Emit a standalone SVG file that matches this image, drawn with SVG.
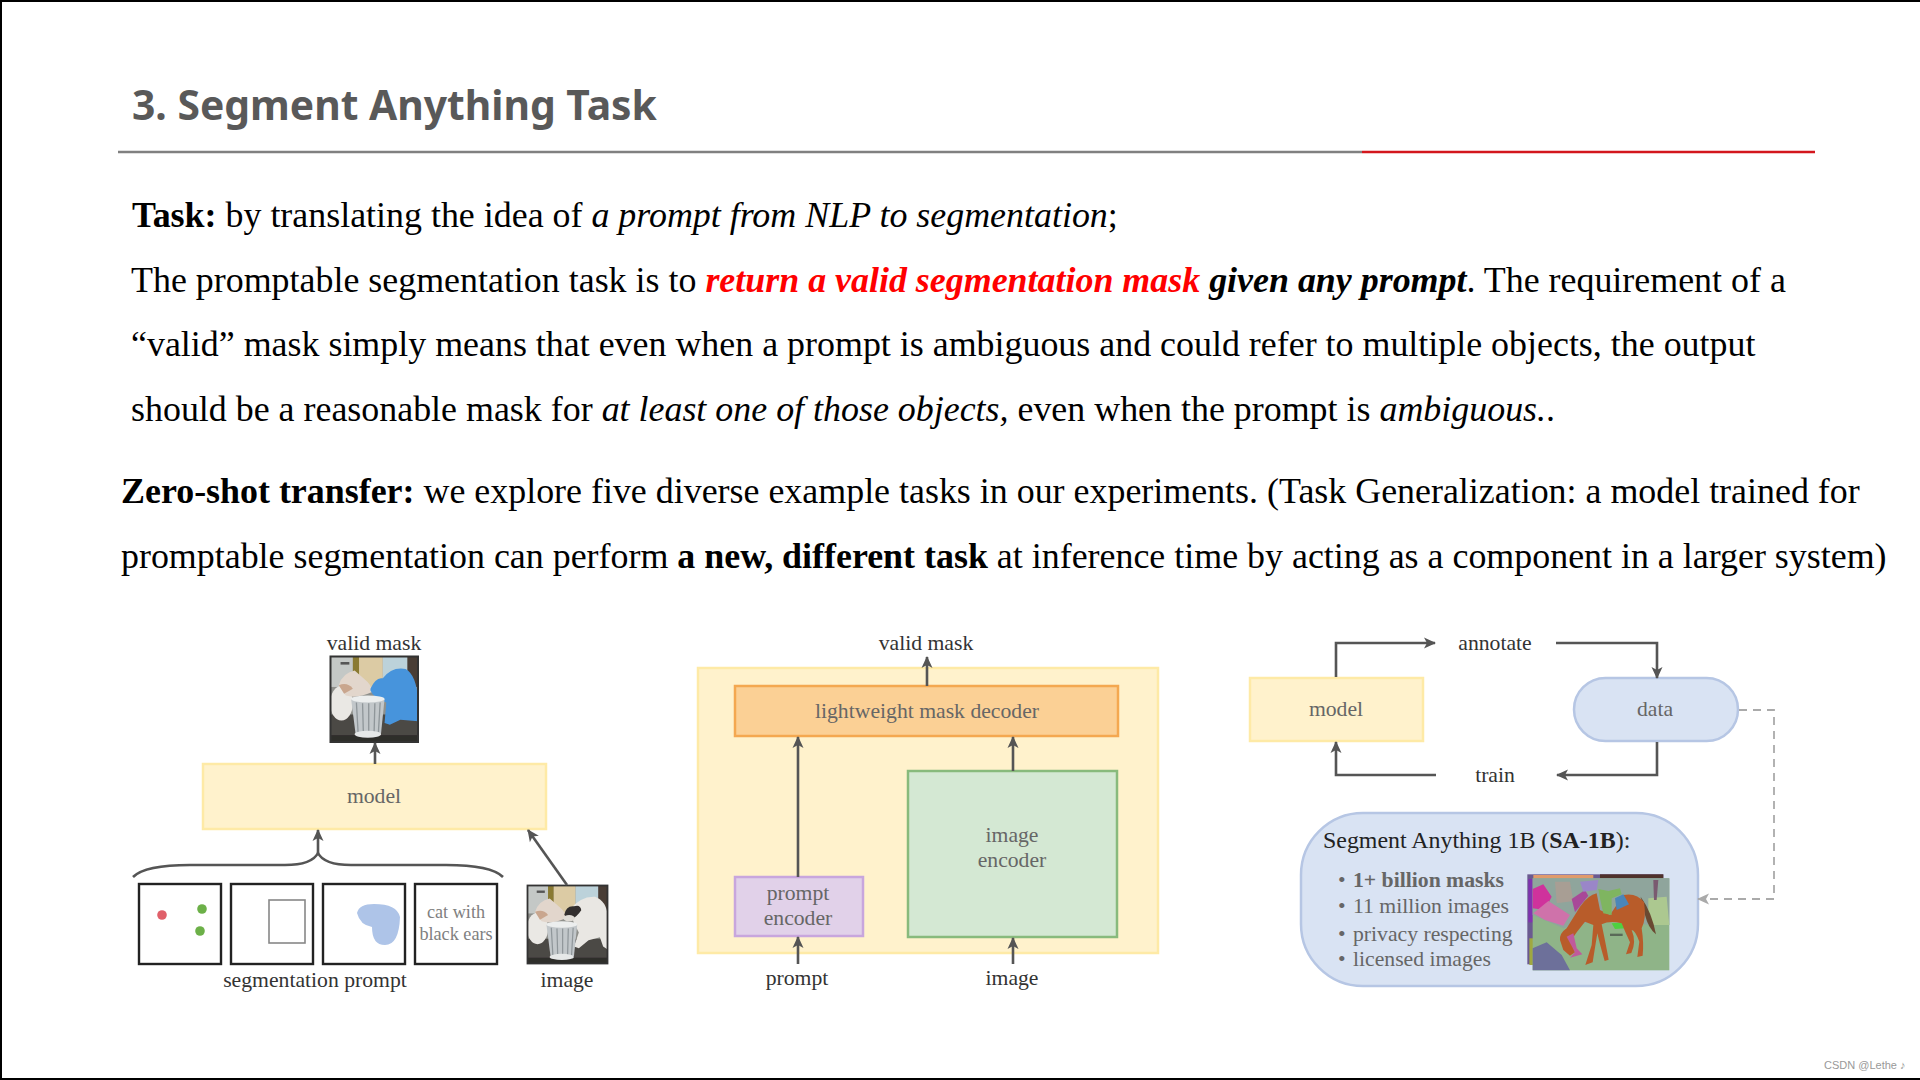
<svg xmlns="http://www.w3.org/2000/svg" width="1920" height="1080" viewBox="0 0 1920 1080">
<style>
.b{font-family:"Liberation Serif",serif;font-size:35.92px;fill:#000}
.bd{font-weight:700}.it{font-style:italic}.red{fill:#f00}
.l{font-family:"Liberation Serif",serif;font-size:21.7px;fill:#333;text-anchor:middle}
.n{font-family:"Liberation Serif",serif;font-size:21.7px;fill:#666;text-anchor:middle}
.t{font-family:"Liberation Serif",serif;font-size:18.2px;fill:#808080;text-anchor:middle}
.s{font-family:"Liberation Serif",serif;font-size:21.7px;fill:#666}
.c{fill:none;stroke:#555;stroke-width:2.6;marker-end:url(#a)}
.p{fill:none;stroke:#555;stroke-width:2.6}
.box{fill:#fff;stroke:#222;stroke-width:2.4}
.y{fill:#fff2cc;stroke:#feeaa6;stroke-width:2.5}
</style>
<defs>
<marker id="a" markerUnits="userSpaceOnUse" markerWidth="14" markerHeight="14" viewBox="0 0 14 14" refX="12" refY="7" orient="auto"><path d="M1 1.5L13 7L1 12.5L4 7Z" fill="#555"/></marker>
<marker id="g" markerUnits="userSpaceOnUse" markerWidth="14" markerHeight="14" viewBox="0 0 14 14" refX="12" refY="7" orient="auto"><path d="M1 1.5L13 7L1 12.5L4 7Z" fill="#aaa"/></marker>
<filter id="soft" x="-5%" y="-5%" width="110%" height="110%"><feGaussianBlur stdDeviation="0.9"/></filter>
<clipPath id="pc"><rect width="100" height="100"/></clipPath>
<g id="photo">
<rect width="100" height="100" fill="#8f908c"/>
<rect x="0" y="0" width="26" height="36" fill="#c4c8c6"/><rect x="12" y="7" width="10" height="3" fill="#555"/>
<rect x="26" y="0" width="7" height="36" fill="#8a7a30"/>
<rect x="33" y="0" width="27" height="40" fill="#dccba4"/>
<rect x="60" y="0" width="28" height="36" fill="#bcd2da"/>
<rect x="88" y="0" width="12" height="36" fill="#4a3e36"/>
<rect x="0" y="68" width="100" height="32" fill="#4c4845"/>
<rect x="0" y="92" width="100" height="8" fill="#2f2d2c"/>
<ellipse cx="13" cy="55" rx="13" ry="20" fill="#eae8e4"/>
<path d="M10 34Q14 20 28 17L38 26Q48 34 48 42Q30 50 18 46Z" fill="#e2d6cc"/>
<path d="M10 34Q20 30 26 38L16 44Z" fill="#c9a68e"/>
</g>
<g id="cup">
<path d="M24 50L62 50L58 90Q43 97 29 90Z" fill="#c2c7ca"/>
<ellipse cx="43" cy="50" rx="19" ry="4" fill="#eceeee"/>
<path d="M30 54l2 36M37 55l1 38M44 55v39M51 55l-1 38M57 54l-2 35" stroke="#8f969a" stroke-width="1.5" fill="none"/>
<ellipse cx="43" cy="91" rx="15" ry="4" fill="#e6e8e8"/>
</g>
<g id="catW"><path d="M52 32Q66 14 84 15Q98 20 100 40V82L94 78L90 66L76 70L64 80L58 78L64 60L58 48Z" fill="#e9e7e3"/><path d="M46 38Q48 26 58 27Q66 24 67 32Q62 40 54 44Z" fill="#322f2d"/><ellipse cx="52" cy="42" rx="7" ry="4" fill="#e0dcd6"/></g>
<g id="catB"><path d="M46 38Q52 24 60 26Q70 12 86 15Q98 22 100 50V76L80 74L68 80L62 78L64 54Q50 50 46 40Z" fill="#4794dc"/></g>
</defs>
<rect width="1920" height="1080" fill="#fff"/>
<path d="M1 0V1080M0 1H1920M0 1079H1920" stroke="#000" stroke-width="2" fill="none"/>
<g id="header">
<text x="132" y="120" font-family="Noto Sans,sans-serif" font-weight="700" font-size="40.8" fill="#595959">3. Segment Anything Task</text>
<path d="M118 152H1362" stroke="#808080" stroke-width="2.4"/><path d="M1362 152H1815" stroke="#d3171d" stroke-width="2.4"/>
</g>
<g id="body">
<text class="b" x="132" y="227"><tspan class="bd">Task:</tspan> by translating the idea of <tspan class="it">a prompt from NLP to segmentation</tspan>;</text>
<text class="b" x="131" y="291.500">The promptable segmentation task is to <tspan class="bd it red">return a valid segmentation mask</tspan> <tspan class="bd it">given any prompt</tspan>. The requirement of a</text>
<text class="b" x="131" y="356">“valid” mask simply means that even when a prompt is ambiguous and could refer to multiple objects, the output</text>
<text class="b" x="131" y="420.500">should be a reasonable mask for <tspan class="it">at least one of those objects,</tspan> even when the prompt is <tspan class="it">ambiguous.</tspan>.</text>
<text class="b" x="121" y="502.500"><tspan class="bd">Zero-shot transfer:</tspan> we explore five diverse example tasks in our experiments. (Task Generalization: a model trained for</text>
<text class="b" x="121" y="567.500">promptable segmentation can perform <tspan class="bd">a new, different task</tspan> at inference time by acting as a component in a larger system)</text>
</g>
<g id="label-valid-mask-1"><text class="l" x="374" y="650">valid mask</text></g>
<g id="mask-photo"><g transform="translate(330 656) scale(.88 .86)"><g clip-path="url(#pc)"><g filter="url(#soft)"><use href="#photo"/><use href="#catB"/><use href="#cup"/></g></g></g><rect x="330.500" y="656.500" width="87.500" height="85.500" fill="none" stroke="#333" stroke-width="2"/></g>
<g id="model-1"><rect class="y" x="203" y="764" width="343" height="65"/><text class="n" x="374" y="803">model</text></g>
<g id="prompt-points"><rect class="box" x="139" y="884" width="82" height="80"/><circle cx="162" cy="915" r="4.800" fill="#e0606a"/><circle cx="202" cy="909" r="4.800" fill="#6cb048"/><circle cx="200" cy="931" r="4.800" fill="#6cb048"/></g>
<g id="prompt-box"><rect class="box" x="231" y="884" width="82" height="80"/><rect x="269" y="900" width="36" height="43" fill="none" stroke="#888" stroke-width="1.600"/></g>
<g id="prompt-mask"><rect class="box" x="323" y="884" width="82" height="80"/><path d="M357 913Q359 904 374 904Q397 904 400 917Q399 945 385 945Q372 945 372 927Q360 925 357 913Z" fill="#aec4e8"/></g>
<g id="prompt-text"><rect class="box" x="415" y="884" width="82" height="80"/><text class="t" x="456" y="918">cat with</text><text class="t" x="456" y="940">black ears</text></g>
<g id="image-photo"><g transform="translate(527 885) scale(.81 .79)"><g clip-path="url(#pc)"><g filter="url(#soft)"><use href="#photo"/><use href="#catW"/><use href="#cup"/></g></g></g><rect x="527.500" y="885.500" width="80" height="78" fill="none" stroke="#333" stroke-width="1.800"/></g>
<g id="label-seg"><text class="l" x="315" y="987">segmentation prompt</text></g>
<g id="label-image-1"><text class="l" x="567" y="987">image</text></g>

<g id="label-valid-mask-2"><text class="l" x="926" y="650">valid mask</text></g>
<g id="sam-frame"><rect class="y" x="698" y="668" width="460" height="285"/></g>
<g id="mask-decoder"><rect x="735" y="686" width="383" height="50" fill="#fbd095" stroke="#f4a850" stroke-width="2.500"/><text class="n" x="927" y="718">lightweight mask decoder</text></g>
<g id="prompt-encoder"><rect x="735" y="877" width="128" height="59" fill="#e1d1e9" stroke="#c8a6dd" stroke-width="2.500"/><text class="n" x="798" y="900">prompt</text><text class="n" x="798" y="925">encoder</text></g>
<g id="image-encoder"><rect x="908" y="771" width="209" height="166" fill="#d4e8d3" stroke="#88ba7c" stroke-width="2.500"/><text class="n" x="1012" y="842">image</text><text class="n" x="1012" y="867">encoder</text></g>
<g id="label-prompt"><text class="l" x="797" y="985">prompt</text></g>
<g id="label-image-2"><text class="l" x="1012" y="985">image</text></g>

<g id="model-3"><rect class="y" x="1250" y="678" width="173" height="63"/><text class="n" x="1336" y="716">model</text></g>
<g id="data"><rect x="1574" y="678" width="164" height="63" rx="31.500" fill="#d9e3f3" stroke="#b6c6e4" stroke-width="2.500"/><text class="n" x="1655" y="716">data</text></g>
<g id="label-annotate"><text class="l" x="1495" y="650">annotate</text></g>
<g id="label-train"><text class="l" x="1495" y="782">train</text></g>
<g id="sa1b"><rect x="1301" y="813" width="397" height="173" rx="62" fill="#d9e3f3" stroke="#b6c6e4" stroke-width="2.500"/>
<text x="1323" y="848" font-family="Liberation Serif,serif" font-size="23.9" fill="#222">Segment Anything 1B (<tspan font-weight="700">SA-1B</tspan>):</text>
<text class="s" x="1338" y="887">• <tspan x="1353" font-weight="700">1+ billion masks</tspan></text>
<text class="s" x="1338" y="913">• <tspan x="1353">11 million images</tspan></text>
<text class="s" x="1338" y="941">• <tspan x="1353">privacy respecting</tspan></text>
<text class="s" x="1338" y="966">• <tspan x="1353">licensed images</tspan></text>
<g transform="translate(1520 865) scale(.3333)" filter="url(#soft)">
<rect x="22" y="28" width="408" height="270" fill="#6a5a90"/>
<rect x="40" y="30" width="180" height="12" fill="#e09a6a"/><rect x="240" y="28" width="190" height="12" fill="#50302a"/>
<rect x="25" y="42" width="15" height="130" fill="#8030b0"/><rect x="28" y="220" width="12" height="80" fill="#a0a840"/>
<rect x="38" y="40" width="410" height="276" fill="#8fb488"/>
<path d="M38 40H448V180H380L300 150L130 190L38 150Z" fill="#8fa59c"/>
<path d="M385 100L440 95L448 180H385Z" fill="#acc890"/>
<path d="M400 45H415L410 105H402Z" fill="#7a5a70"/>
<path d="M38 72L70 58L95 95L75 135L38 130Z" fill="#cf329c"/>
<path d="M40 145L85 108L150 150L130 182L75 165Z" fill="#cf72aa"/>
<path d="M105 50H150L160 108L110 115Z" fill="#a89e94"/>
<path d="M155 102L195 75L205 92L165 142Z" fill="#a84a98"/>
<path d="M180 50L235 45L230 75L190 80Z" fill="#9a86c8"/>
<path d="M275 175L320 172L318 190L285 192Z" fill="#50d040"/>
<path d="M270 206H308V213H270Z" fill="#5a6a58"/>
<path d="M38 250L80 232L125 270L150 316H38Z" fill="#6d6f9a"/>
<path d="M362 95Q395 140 408 208Q385 190 375 150Z" fill="#6a4a30"/>
<path d="M120 225Q118 205 140 190L180 125Q205 90 230 85L240 135L270 150L310 90Q350 82 372 112Q380 160 365 190Q372 235 368 272L352 276L358 230Q345 195 335 195Q350 230 334 264L318 268L330 232Q315 200 305 175Q270 165 245 178Q258 240 266 284L254 288Q240 240 232 205L218 292L196 300L215 240L220 180L195 170Q170 200 152 228L165 262L150 272L130 255Z" fill="#b85c2c"/>
<path d="M235 72L265 78L300 70L305 88L275 100L275 150L250 145L240 100Z" fill="#7fb560"/>
<path d="M285 100L310 88L327 118L290 135Z" fill="#4b86b8"/>
<path d="M140 215L160 205L170 250L187 268L150 278L165 262Z" fill="#c05a9c"/>
</g>
</g>
<g id="watermark"><text x="1824" y="1069" font-family="Liberation Sans,sans-serif" font-size="11" fill="#999">CSDN @Lethe ♪</text></g>
<g id="connectors">
<path class="c" d="M375 764V743"/>
<path class="c" d="M318 853V830"/>
<path class="p" d="M133 877Q145 865 190 865H285Q312 865 318 853Q324 865 351 865H446Q491 865 503 877"/>
<path class="c" d="M567 885L528 830"/>
<path class="c" d="M927 686V657"/><path class="c" d="M798 877V737"/><path class="c" d="M1013 771V737"/>
<path class="c" d="M798 964V937"/><path class="c" d="M1013 964V938"/>
<path class="c" d="M1336 677V643H1435"/><path class="c" d="M1556 643H1657V678"/>
<path class="c" d="M1657 742V775H1557"/><path class="c" d="M1436 775H1336V742"/>
<path d="M1739 710H1774V899H1698" fill="none" stroke="#aaa" stroke-width="1.800" stroke-dasharray="8 6" marker-end="url(#g)"/>
</g>
</svg>
